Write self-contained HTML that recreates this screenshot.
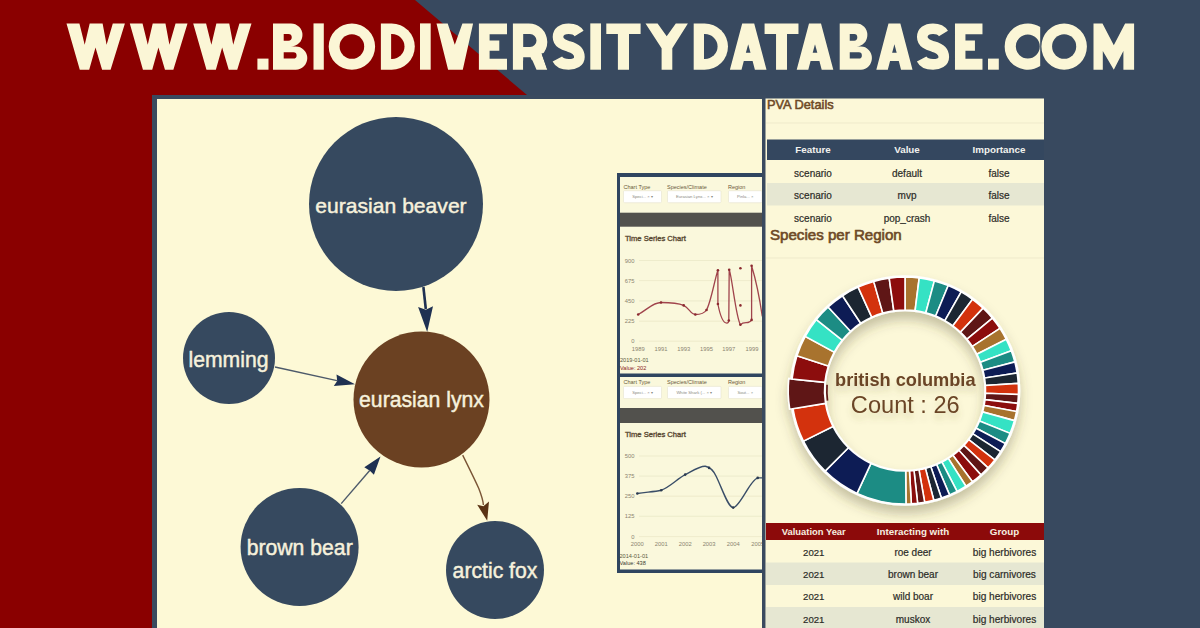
<!DOCTYPE html><html><head><meta charset="utf-8"><style>html,body{margin:0;padding:0;width:1200px;height:628px;overflow:hidden;background:#38495f}svg{display:block}</style></head><body><svg width="1200" height="628" viewBox="0 0 1200 628" font-family="Liberation Sans, sans-serif"><defs><filter id="dsh" x="-30%" y="-30%" width="160%" height="170%"><feGaussianBlur in="SourceAlpha" stdDeviation="6"/><feOffset dy="8" result="o"/><feFlood flood-color="#4a4325" flood-opacity="0.3"/><feComposite in2="o" operator="in"/><feMerge><feMergeNode/><feMergeNode in="SourceGraphic"/></feMerge></filter><radialGradient id="inner" cx="50%" cy="55%" r="50%"><stop offset="0.7" stop-color="#faf6d8"/><stop offset="1" stop-color="#ede8c4"/></radialGradient><marker id="ab" viewBox="0 0 10 10" refX="10" refY="5" markerWidth="10" markerHeight="10" markerUnits="userSpaceOnUse" orient="auto"><path d="M0 0 L10 5 L0 10 Z" fill="#36495f"/></marker><filter id="tsh" x="-20%" y="-50%" width="140%" height="200%"><feGaussianBlur in="SourceAlpha" stdDeviation="3"/><feOffset dy="6" result="o"/><feFlood flood-color="#6a6030" flood-opacity="0.22"/><feComposite in2="o" operator="in"/><feMerge><feMergeNode/><feMergeNode in="SourceGraphic"/></feMerge></filter></defs><rect width="1200" height="628" fill="#38495f"/><path d="M0 0 L415 0 L527 95 L152 95 L152 628 L0 628 Z" fill="#8a0000"/><mask id="bm" maskUnits="userSpaceOnUse" x="0" y="0" width="1200" height="100"><rect width="1200" height="100" fill="#000"/><g transform="matrix(1.0000 0 0 1 0.000 0)"><path d="M66.50 23.40 L79.40 23.40 L84.70 44.80 L89.70 23.40 L102.60 23.40 L106.60 44.80 L112.80 23.40 L124.90 23.40 L110.60 69.70 L102.10 69.70 L95.50 47.40 L89.20 69.70 L79.80 69.70 Z" fill="#fff"/></g><g transform="matrix(0.9880 0 0 1 64.097 0)"><path d="M66.50 23.40 L79.40 23.40 L84.70 44.80 L89.70 23.40 L102.60 23.40 L106.60 44.80 L112.80 23.40 L124.90 23.40 L110.60 69.70 L102.10 69.70 L95.50 47.40 L89.20 69.70 L79.80 69.70 Z" fill="#fff"/></g><g transform="matrix(0.9983 0 0 1 126.814 0)"><path d="M66.50 23.40 L79.40 23.40 L84.70 44.80 L89.70 23.40 L102.60 23.40 L106.60 44.80 L112.80 23.40 L124.90 23.40 L110.60 69.70 L102.10 69.70 L95.50 47.40 L89.20 69.70 L79.80 69.70 Z" fill="#fff"/></g><g transform="matrix(1.0000 0 0 1 0.000 0)"><path d="M257.40 58.60 L268.50 58.60 L268.50 69.70 L257.40 69.70 Z" fill="#fff"/></g><g transform="matrix(1.0000 0 0 1 0.000 0)"><path d="M273 23.4 H290.9 A11.55 11.55 0 0 1 290.9 46.5 H295.7 A11.6 11.6 0 0 1 295.7 69.7 H273 Z" fill="#fff"/><path d="M283.7 34 H288.4 A3.35 3.35 0 0 1 288.4 40.7 H283.7 Z M283.7 52.3 H293.45 A3.15 3.15 0 0 1 293.45 58.6 H283.7 Z" fill="#000"/></g><g transform="matrix(1.0000 0 0 1 0.000 0)"><path d="M313.50 23.40 L323.80 23.40 L323.80 69.70 L313.50 69.70 Z" fill="#fff"/></g><g transform="matrix(1.0000 0 0 1 0.000 0)"><path d="M328.7 46.55 A23.2 23.15 0 1 1 375.1 46.55 A23.2 23.15 0 1 1 328.7 46.55 Z" fill="#fff"/><path d="M339.6 46.55 A12.3 12.3 0 1 1 364.2 46.55 A12.3 12.3 0 1 1 339.6 46.55 Z" fill="#000"/></g><g transform="matrix(1.0000 0 0 1 0.000 0)"><path d="M380.9 23.4 H391.65 A23.15 23.15 0 0 1 391.65 69.7 H380.9 Z" fill="#fff"/><path d="M391.1 34 H392 A12.5 12.5 0 0 1 392 59 H391.1 Z" fill="#000"/></g><g transform="matrix(1.0388 0 0 1 94.325 0)"><path d="M313.50 23.40 L323.80 23.40 L323.80 69.70 L313.50 69.70 Z" fill="#fff"/></g><g transform="matrix(1.0000 0 0 1 0.000 0)"><path d="M436.50 23.40 L447.70 23.40 L454.80 44.80 L462.40 23.40 L473.10 23.40 L462.80 69.70 L448.10 69.70 Z" fill="#fff"/></g><g transform="matrix(1.0000 0 0 1 0.000 0)"><path d="M478.90 23.40 L507.00 23.40 L507.00 34.20 L489.60 34.20 L489.60 40.60 L499.30 40.60 L499.30 50.80 L489.60 50.80 L489.60 58.80 L507.00 58.80 L507.00 69.70 L478.90 69.70 Z" fill="#fff"/></g><g transform="matrix(1.0000 0 0 1 0.000 0)"><path d="M512.9 23.4 H528.7 A18.6 18.6 0 0 1 528.7 60.6 H523.2 V69.7 H512.9 Z" fill="#fff"/><path d="M523.2 34 H530 A6.5 6.5 0 0 1 530 47 H523.2 Z" fill="#000"/><path d="M523.20 69.70 L523.20 57.20 L530.50 57.20 L536.50 69.70 Z" fill="#000"/><path d="M531.20 57.60 L541.50 53.20 L547.30 69.70 L536.50 69.70 Z" fill="#fff"/><path d="M547.30 69.70 L541.50 53.20 L549.00 53.20 L549.00 69.70 Z" fill="#000"/></g><g transform="matrix(0.9879 0 0 1 -352.991 0)"><path d="M943.5 33.5 C941 29.5 937.5 28.75 933 28.75 C926 28.75 922.15 32 922.15 37 C922.15 43 928 45 933 46.5 C939 48 943.85 50.5 943.85 57 C943.85 62 939 64.35 933 64.35 C927 64.35 923 62 921.5 59" fill="none" stroke="#fff" stroke-width="10.7"/></g><g transform="matrix(1.0388 0 0 1 264.625 0)"><path d="M313.50 23.40 L323.80 23.40 L323.80 69.70 L313.50 69.70 Z" fill="#fff"/></g><g transform="matrix(1.0000 0 0 1 0.000 0)"><path d="M606.30 23.40 L640.60 23.40 L640.60 34.10 L629.00 34.10 L629.00 69.70 L617.90 69.70 L617.90 34.10 L606.30 34.10 Z" fill="#fff"/></g><g transform="matrix(1.0000 0 0 1 0.000 0)"><path d="M645.50 23.40 L657.60 23.40 L666.70 36.30 L675.80 23.40 L687.90 23.40 L672.30 48.30 L672.30 69.70 L661.60 69.70 L661.60 48.30 Z" fill="#fff"/></g><g transform="matrix(1.0118 0 0 1 308.306 0)"><path d="M380.9 23.4 H391.65 A23.15 23.15 0 0 1 391.65 69.7 H380.9 Z" fill="#fff"/><path d="M391.1 34 H392 A12.5 12.5 0 0 1 392 59 H391.1 Z" fill="#000"/></g><g transform="matrix(1.0000 0 0 1 0.000 0)"><path d="M729.90 69.70 L742.20 23.40 L754.20 23.40 L766.50 69.70 L754.90 69.70 L752.60 61.10 L743.80 61.10 L741.50 69.70 Z" fill="#fff"/><path d="M748.20 44.20 L750.50 52.80 L745.90 52.80 Z" fill="#000"/></g><g transform="matrix(0.9883 0 0 1 165.371 0)"><path d="M606.30 23.40 L640.60 23.40 L640.60 34.10 L629.00 34.10 L629.00 69.70 L617.90 69.70 L617.90 34.10 L606.30 34.10 Z" fill="#fff"/></g><g transform="matrix(1.0000 0 0 1 66.800 0)"><path d="M729.90 69.70 L742.20 23.40 L754.20 23.40 L766.50 69.70 L754.90 69.70 L752.60 61.10 L743.80 61.10 L741.50 69.70 Z" fill="#fff"/><path d="M748.20 44.20 L750.50 52.80 L745.90 52.80 Z" fill="#000"/></g><g transform="matrix(0.9388 0 0 1 583.414 0)"><path d="M273 23.4 H290.9 A11.55 11.55 0 0 1 290.9 46.5 H295.7 A11.6 11.6 0 0 1 295.7 69.7 H273 Z" fill="#fff"/><path d="M283.7 34 H288.4 A3.35 3.35 0 0 1 288.4 40.7 H283.7 Z M283.7 52.3 H293.45 A3.15 3.15 0 0 1 293.45 58.6 H283.7 Z" fill="#000"/></g><g transform="matrix(0.9891 0 0 1 154.377 0)"><path d="M729.90 69.70 L742.20 23.40 L754.20 23.40 L766.50 69.70 L754.90 69.70 L752.60 61.10 L743.80 61.10 L741.50 69.70 Z" fill="#fff"/><path d="M748.20 44.20 L750.50 52.80 L745.90 52.80 Z" fill="#000"/></g><g transform="matrix(0.9909 0 0 1 8.532 0)"><path d="M943.5 33.5 C941 29.5 937.5 28.75 933 28.75 C926 28.75 922.15 32 922.15 37 C922.15 43 928 45 933 46.5 C939 48 943.85 50.5 943.85 57 C943.85 62 939 64.35 933 64.35 C927 64.35 923 62 921.5 59" fill="none" stroke="#fff" stroke-width="10.7"/></g><g transform="matrix(0.9786 0 0 1 486.326 0)"><path d="M478.90 23.40 L507.00 23.40 L507.00 34.20 L489.60 34.20 L489.60 40.60 L499.30 40.60 L499.30 50.80 L489.60 50.80 L489.60 58.80 L507.00 58.80 L507.00 69.70 L478.90 69.70 Z" fill="#fff"/></g><g transform="matrix(0.9730 0 0 1 737.557 0)"><path d="M257.40 58.60 L268.50 58.60 L268.50 69.70 L257.40 69.70 Z" fill="#fff"/></g><g transform="matrix(1.0000 0 0 1 0.000 0)"><path d="M1040.2 27.0 A23.15 23.15 0 1 0 1040.2 66.1 Z M1015.8 46.55 A12 12 0 1 0 1039.8 46.55 A12 12 0 1 0 1015.8 46.55 Z" fill="#fff" fill-rule="evenodd"/></g><g transform="matrix(0.9806 0 0 1 719.076 0)"><path d="M328.7 46.55 A23.2 23.15 0 1 1 375.1 46.55 A23.2 23.15 0 1 1 328.7 46.55 Z" fill="#fff"/><path d="M339.6 46.55 A12.3 12.3 0 1 1 364.2 46.55 A12.3 12.3 0 1 1 339.6 46.55 Z" fill="#000"/></g><g transform="matrix(1.0000 0 0 1 0.000 0)"><path d="M1093.50 69.70 L1093.50 23.40 L1102.50 23.40 L1113.80 45.20 L1125.10 23.40 L1134.10 23.40 L1134.10 69.70 L1123.40 69.70 L1123.40 51.00 L1113.80 69.70 L1102.80 51.00 L1102.80 69.70 Z" fill="#fff"/></g></mask><rect x="0" y="0" width="1200" height="100" fill="#fbf6d6" mask="url(#bm)"/><rect x="152" y="95" width="614" height="540" fill="#3a4a5f"/><rect x="157" y="99" width="605" height="540" fill="#fdf9d6"/><line x1="423.4" y1="287" x2="425.8" y2="309" stroke="#1f3152" stroke-width="2.6"/><path d="M427.2 332 L418.1 307 L425.8 309.8 L433 306.3 Z" fill="#1f3152"/><line x1="275" y1="367" x2="337" y2="380.6" stroke="#4d5a6a" stroke-width="1.4"/><path d="M355 384.3 L336.5 374.5 L337.2 380.9 L333.8 386 Z" fill="#1f3152"/><line x1="341.2" y1="503.6" x2="369.7" y2="470.5" stroke="#4d5a6a" stroke-width="1.4"/><path d="M380.5 456.4 L364.3 467.2 L369.9 470.8 L373.9 474.7 Z" fill="#1f3152"/><path d="M462.7 455.1 C468 466 474 478 478.7 488.2 C481 494 483 500 483.4 505" fill="none" stroke="#7a5536" stroke-width="1.4"/><path d="M487.2 520.7 L477.2 504.8 L483.4 506.3 L489 501.4 Z" fill="#5a3314"/><circle cx="396" cy="204" r="87" fill="#36495f"/><circle cx="229" cy="358" r="46" fill="#36495f"/><circle cx="421.5" cy="399.5" r="68" fill="#6b4122"/><circle cx="299.6" cy="547" r="59" fill="#36495f"/><circle cx="495" cy="570" r="49" fill="#36495f"/><text x="391" y="213" font-size="21.1" fill="#f6f1dc" font-weight="normal" text-anchor="middle" stroke="#f6f1dc" stroke-width="0.45">eurasian beaver</text><text x="228.5" y="367.4" font-size="21.2" fill="#f6f1dc" font-weight="normal" text-anchor="middle" stroke="#f6f1dc" stroke-width="0.45">lemming</text><text x="421.5" y="406.8" font-size="21.2" fill="#f6f1dc" font-weight="normal" text-anchor="middle" stroke="#f6f1dc" stroke-width="0.45">eurasian lynx</text><text x="299.7" y="554.7" font-size="21.2" fill="#f6f1dc" font-weight="normal" text-anchor="middle" stroke="#f6f1dc" stroke-width="0.45">brown bear</text><text x="495" y="577.7" font-size="21.2" fill="#f6f1dc" font-weight="normal" text-anchor="middle" stroke="#f6f1dc" stroke-width="0.45">arctic fox</text><rect x="617" y="173" width="149" height="400" fill="#2f4560"/><rect x="620" y="177" width="142" height="196.5" fill="#faf8dc"/><rect x="620" y="377" width="142" height="192.5" fill="#faf8dc"/><text x="623.5" y="188.7" font-size="5.5" fill="#6a5a3a" font-weight="normal" text-anchor="start" >Chart Type</text><text x="667" y="188.7" font-size="5.5" fill="#6a5a3a" font-weight="normal" text-anchor="start" >Species/Climate</text><text x="728" y="188.7" font-size="5.5" fill="#6a5a3a" font-weight="normal" text-anchor="start" >Region</text><rect x="623.5" y="190.7" width="38" height="12" fill="#ffffff" stroke="#e6e3cf" stroke-width="0.6" rx="1"/><text x="642.5" y="198.3" font-size="4.2" fill="#8a8a80" font-weight="normal" text-anchor="middle" >Speci... ×   ▾</text><rect x="667.5" y="190.7" width="53.5" height="12" fill="#ffffff" stroke="#e6e3cf" stroke-width="0.6" rx="1"/><text x="694.25" y="198.3" font-size="4.2" fill="#8a8a80" font-weight="normal" text-anchor="middle" >Eurasian Lynx... ×  ▾</text><rect x="728.5" y="190.7" width="33.5" height="12" fill="#ffffff" stroke="#e6e3cf" stroke-width="0.6" rx="1"/><text x="745.25" y="198.3" font-size="4.2" fill="#8a8a80" font-weight="normal" text-anchor="middle" >Pinla... ×</text><rect x="620" y="212.7" width="142" height="14" fill="#52514d"/><text x="625" y="240.7" font-size="7.6" fill="#5a4a33" font-weight="normal" text-anchor="start" stroke="#5a4a33" stroke-width="0.35">Time Series Chart</text><text x="623.5" y="384.4" font-size="5.5" fill="#6a5a3a" font-weight="normal" text-anchor="start" >Chart Type</text><text x="667" y="384.4" font-size="5.5" fill="#6a5a3a" font-weight="normal" text-anchor="start" >Species/Climate</text><text x="728" y="384.4" font-size="5.5" fill="#6a5a3a" font-weight="normal" text-anchor="start" >Region</text><rect x="623.5" y="386.4" width="38" height="12.2" fill="#ffffff" stroke="#e6e3cf" stroke-width="0.6" rx="1"/><text x="642.5" y="394.1" font-size="4.2" fill="#8a8a80" font-weight="normal" text-anchor="middle" >Speci... ×   ▾</text><rect x="667.5" y="386.4" width="53.5" height="12.2" fill="#ffffff" stroke="#e6e3cf" stroke-width="0.6" rx="1"/><text x="694.25" y="394.1" font-size="4.2" fill="#8a8a80" font-weight="normal" text-anchor="middle" >White Shark (... ×  ▾</text><rect x="728.5" y="386.4" width="33.5" height="12.2" fill="#ffffff" stroke="#e6e3cf" stroke-width="0.6" rx="1"/><text x="745.25" y="394.1" font-size="4.2" fill="#8a8a80" font-weight="normal" text-anchor="middle" >Sout... ×</text><rect x="620" y="408" width="142" height="15" fill="#52514d"/><text x="625" y="436.5" font-size="7.6" fill="#5a4a33" font-weight="normal" text-anchor="start" stroke="#5a4a33" stroke-width="0.35">Time Series Chart</text><line x1="639" y1="260.5" x2="762" y2="260.5" stroke="#ebe8c8" stroke-width="0.8"/><text x="634.5" y="262.5" font-size="5.8" fill="#8a8470" font-weight="normal" text-anchor="end" >900</text><line x1="639" y1="280.6" x2="762" y2="280.6" stroke="#ebe8c8" stroke-width="0.8"/><text x="634.5" y="282.6" font-size="5.8" fill="#8a8470" font-weight="normal" text-anchor="end" >675</text><line x1="639" y1="300.9" x2="762" y2="300.9" stroke="#ebe8c8" stroke-width="0.8"/><text x="634.5" y="302.9" font-size="5.8" fill="#8a8470" font-weight="normal" text-anchor="end" >450</text><line x1="639" y1="321.2" x2="762" y2="321.2" stroke="#ebe8c8" stroke-width="0.8"/><text x="634.5" y="323.2" font-size="5.8" fill="#8a8470" font-weight="normal" text-anchor="end" >225</text><line x1="639" y1="341.2" x2="762" y2="341.2" stroke="#ebe8c8" stroke-width="0.8"/><text x="634.5" y="343.2" font-size="5.8" fill="#8a8470" font-weight="normal" text-anchor="end" >0</text><text x="638.2" y="350.5" font-size="5.8" fill="#8a8470" font-weight="normal" text-anchor="middle" >1989</text><text x="661" y="350.5" font-size="5.8" fill="#8a8470" font-weight="normal" text-anchor="middle" >1991</text><text x="683.7" y="350.5" font-size="5.8" fill="#8a8470" font-weight="normal" text-anchor="middle" >1993</text><text x="706.5" y="350.5" font-size="5.8" fill="#8a8470" font-weight="normal" text-anchor="middle" >1995</text><text x="728.8" y="350.5" font-size="5.8" fill="#8a8470" font-weight="normal" text-anchor="middle" >1997</text><text x="752" y="350.5" font-size="5.8" fill="#8a8470" font-weight="normal" text-anchor="middle" >1999</text><text x="620" y="362" font-size="5.6" fill="#5a5a40" font-weight="normal" text-anchor="start" >2019-01-01</text><text x="620" y="370" font-size="5.6" fill="#8b1a1a" font-weight="normal" text-anchor="start" >Value: 202</text><path d="M638.2 314.5 C648 309 653 302.5 661 302.5 C672 302.5 678 303 683.7 305.4 C689 308 691 314.5 695.3 314.5 C700 314.5 704 314 706.5 310 C711 302 715 278 717.9 270.2 L717.9 304 C720 315 723 323 726.8 323.2 C728.5 323 728.8 321 728.8 320.5 L729.2 269.8 C731.9 276 736 318 740.4 324.7 C743 322 746 323 748 322.5 C750 322 751 321 751.6 319.9 L751.6 265.7 C754.7 276 759.9 300 762.3 316.4" fill="none" stroke="#a0444c" stroke-width="1.3"/><circle cx="638.2" cy="314.5" r="1.3" fill="#8c2a30"/><circle cx="661" cy="302.5" r="1.3" fill="#8c2a30"/><circle cx="683.7" cy="305.4" r="1.3" fill="#8c2a30"/><circle cx="695.3" cy="314.5" r="1.3" fill="#8c2a30"/><circle cx="706.5" cy="310" r="1.3" fill="#8c2a30"/><circle cx="717.9" cy="270.2" r="1.3" fill="#8c2a30"/><circle cx="717.9" cy="304" r="1.3" fill="#8c2a30"/><circle cx="728.8" cy="320.5" r="1.3" fill="#8c2a30"/><circle cx="729.2" cy="269.8" r="1.3" fill="#8c2a30"/><circle cx="740.4" cy="324.7" r="1.3" fill="#8c2a30"/><circle cx="740.4" cy="268.2" r="1.3" fill="#8c2a30"/><circle cx="740.4" cy="305.4" r="1.3" fill="#8c2a30"/><circle cx="751.6" cy="319.9" r="1.3" fill="#8c2a30"/><circle cx="751.6" cy="265.7" r="1.3" fill="#8c2a30"/><line x1="639" y1="456" x2="762" y2="456" stroke="#ebe8c8" stroke-width="0.8"/><text x="634.5" y="458" font-size="5.8" fill="#8a8470" font-weight="normal" text-anchor="end" >500</text><line x1="639" y1="476.1" x2="762" y2="476.1" stroke="#ebe8c8" stroke-width="0.8"/><text x="634.5" y="478.1" font-size="5.8" fill="#8a8470" font-weight="normal" text-anchor="end" >375</text><line x1="639" y1="496.2" x2="762" y2="496.2" stroke="#ebe8c8" stroke-width="0.8"/><text x="634.5" y="498.2" font-size="5.8" fill="#8a8470" font-weight="normal" text-anchor="end" >250</text><line x1="639" y1="516.3" x2="762" y2="516.3" stroke="#ebe8c8" stroke-width="0.8"/><text x="634.5" y="518.3" font-size="5.8" fill="#8a8470" font-weight="normal" text-anchor="end" >125</text><line x1="639" y1="536.6" x2="762" y2="536.6" stroke="#ebe8c8" stroke-width="0.8"/><text x="634.5" y="538.6" font-size="5.8" fill="#8a8470" font-weight="normal" text-anchor="end" >0</text><text x="637.3" y="546" font-size="5.8" fill="#8a8470" font-weight="normal" text-anchor="middle" >2000</text><text x="661.2" y="546" font-size="5.8" fill="#8a8470" font-weight="normal" text-anchor="middle" >2001</text><text x="685.2" y="546" font-size="5.8" fill="#8a8470" font-weight="normal" text-anchor="middle" >2002</text><text x="709.1" y="546" font-size="5.8" fill="#8a8470" font-weight="normal" text-anchor="middle" >2003</text><text x="733.2" y="546" font-size="5.8" fill="#8a8470" font-weight="normal" text-anchor="middle" >2004</text><text x="757.7" y="546" font-size="5.8" fill="#8a8470" font-weight="normal" text-anchor="middle" >2005</text><text x="619.5" y="557.5" font-size="5.6" fill="#5a5a40" font-weight="normal" text-anchor="start" >2014-01-01</text><text x="619.5" y="565" font-size="5.6" fill="#3a3a30" font-weight="normal" text-anchor="start" >Value: 438</text><path d="M637.3 493.5 C648 492 655 491.5 661.2 490.2 C670 487 677 479 685.2 474.6 C694 470 700 466 705.3 466.3 C710 467 713 470 716 476 C722 488 728 507.6 733.2 507.6 C740 507 750 480 757.7 477.9 L763.3 477.9" fill="none" stroke="#3a4e68" stroke-width="1.4"/><circle cx="637.3" cy="493.5" r="1.3" fill="#2a3a50"/><circle cx="661.2" cy="490.2" r="1.3" fill="#2a3a50"/><circle cx="685.2" cy="474.6" r="1.3" fill="#2a3a50"/><circle cx="709.1" cy="467.9" r="1.3" fill="#2a3a50"/><circle cx="733.2" cy="507.6" r="1.3" fill="#2a3a50"/><circle cx="757.7" cy="477.9" r="1.3" fill="#2a3a50"/><rect x="762" y="98" width="282" height="540" fill="#3a4a5f"/><rect x="765.5" y="98.5" width="278.5" height="540" fill="#fcf8d8"/><line x1="766" y1="123" x2="1044" y2="123" stroke="#efeacb" stroke-width="1"/><line x1="766" y1="258" x2="1044" y2="258" stroke="#efeacb" stroke-width="1"/><text x="767" y="109" font-size="12.8" fill="#6e4a27" font-weight="normal" text-anchor="start" stroke="#6e4a27" stroke-width="0.55">PVA Details</text><rect x="767" y="139.5" width="277" height="20.5" fill="#34475f"/><text x="813" y="153.3" font-size="9.8" fill="#f2f2ee" font-weight="bold" text-anchor="middle" >Feature</text><text x="907" y="153.3" font-size="9.8" fill="#f2f2ee" font-weight="bold" text-anchor="middle" >Value</text><text x="999" y="153.3" font-size="9.8" fill="#f2f2ee" font-weight="bold" text-anchor="middle" >Importance</text><rect x="767" y="183" width="277" height="22.5" fill="#e6e7d2"/><text x="813" y="176.7" font-size="10" fill="#2c2c28" font-weight="normal" text-anchor="middle" stroke="#2c2c28" stroke-width="0.2">scenario</text><text x="907" y="176.7" font-size="10" fill="#2c2c28" font-weight="normal" text-anchor="middle" stroke="#2c2c28" stroke-width="0.2">default</text><text x="999" y="176.7" font-size="10" fill="#2c2c28" font-weight="normal" text-anchor="middle" stroke="#2c2c28" stroke-width="0.2">false</text><text x="813" y="199" font-size="10" fill="#2c2c28" font-weight="normal" text-anchor="middle" stroke="#2c2c28" stroke-width="0.2">scenario</text><text x="907" y="199" font-size="10" fill="#2c2c28" font-weight="normal" text-anchor="middle" stroke="#2c2c28" stroke-width="0.2">mvp</text><text x="999" y="199" font-size="10" fill="#2c2c28" font-weight="normal" text-anchor="middle" stroke="#2c2c28" stroke-width="0.2">false</text><text x="813" y="221.7" font-size="10" fill="#2c2c28" font-weight="normal" text-anchor="middle" stroke="#2c2c28" stroke-width="0.2">scenario</text><text x="907" y="221.7" font-size="10" fill="#2c2c28" font-weight="normal" text-anchor="middle" stroke="#2c2c28" stroke-width="0.2">pop_crash</text><text x="999" y="221.7" font-size="10" fill="#2c2c28" font-weight="normal" text-anchor="middle" stroke="#2c2c28" stroke-width="0.2">false</text><text x="770" y="240" font-size="15.1" fill="#6e4a27" font-weight="normal" text-anchor="start" stroke="#6e4a27" stroke-width="0.65">Species per Region</text><g filter="url(#dsh)"><path d="M905 275.2 A115.3 115.3 0 1 0 905 505.8 A115.3 115.3 0 1 0 905 275.2 Z M905 311.2 A79.3 79.3 0 1 1 905 469.8 A79.3 79.3 0 1 1 905 311.2 Z" fill="#ffffff" fill-rule="evenodd"/><g stroke="#ffffff" stroke-width="1.6" stroke-linejoin="miter"><path d="M905 277 A113.5 113.5 0 0 1 919.23 277.89 L915.09 310.63 A80.5 80.5 0 0 0 905 310 Z" fill="#a8732f"/><path d="M919.23 277.89 A113.5 113.5 0 0 1 934.38 280.87 L925.83 312.74 A80.5 80.5 0 0 0 915.09 310.63 Z" fill="#36e2c4"/><path d="M934.38 280.87 A113.5 113.5 0 0 1 948.25 285.56 L935.68 316.07 A80.5 80.5 0 0 0 925.83 312.74 Z" fill="#1d8c84"/><path d="M948.25 285.56 A113.5 113.5 0 0 1 961.23 291.91 L944.88 320.58 A80.5 80.5 0 0 0 935.68 316.07 Z" fill="#0f1b55"/><path d="M961.23 291.91 A113.5 113.5 0 0 1 972.51 299.26 L952.88 325.79 A80.5 80.5 0 0 0 944.88 320.58 Z" fill="#1b2532"/><path d="M972.51 299.26 A113.5 113.5 0 0 1 983.13 308.17 L960.41 332.11 A80.5 80.5 0 0 0 952.88 325.79 Z" fill="#d3300e"/><path d="M983.13 308.17 A113.5 113.5 0 0 1 992.45 318.15 L967.03 339.19 A80.5 80.5 0 0 0 960.41 332.11 Z" fill="#5e1414"/><path d="M992.45 318.15 A113.5 113.5 0 0 1 999.97 328.35 L972.36 346.42 A80.5 80.5 0 0 0 967.03 339.19 Z" fill="#8c0a0a"/><path d="M999.97 328.35 A113.5 113.5 0 0 1 1006.31 339.33 L976.85 354.2 A80.5 80.5 0 0 0 972.36 346.42 Z" fill="#a8732f"/><path d="M1006.31 339.33 A113.5 113.5 0 0 1 1011.31 350.75 L980.4 362.31 A80.5 80.5 0 0 0 976.85 354.2 Z" fill="#36e2c4"/><path d="M1011.31 350.75 A113.5 113.5 0 0 1 1014.83 361.89 L982.9 370.21 A80.5 80.5 0 0 0 980.4 362.31 Z" fill="#1d8c84"/><path d="M1014.83 361.89 A113.5 113.5 0 0 1 1017.13 372.94 L984.53 378.05 A80.5 80.5 0 0 0 982.9 370.21 Z" fill="#0f1b55"/><path d="M1017.13 372.94 A113.5 113.5 0 0 1 1018.28 383.37 L985.34 385.45 A80.5 80.5 0 0 0 984.53 378.05 Z" fill="#1b2532"/><path d="M1018.28 383.37 A113.5 113.5 0 0 1 1018.43 394.46 L985.45 393.31 A80.5 80.5 0 0 0 985.34 385.45 Z" fill="#d3300e"/><path d="M1018.43 394.46 A113.5 113.5 0 0 1 1017.77 403.35 L984.98 399.61 A80.5 80.5 0 0 0 985.45 393.31 Z" fill="#5e1414"/><path d="M1017.77 403.35 A113.5 113.5 0 0 1 1016.53 411.57 L984.1 405.45 A80.5 80.5 0 0 0 984.98 399.61 Z" fill="#8c0a0a"/><path d="M1016.53 411.57 A113.5 113.5 0 0 1 1014.42 420.64 L982.61 411.88 A80.5 80.5 0 0 0 984.1 405.45 Z" fill="#a8732f"/><path d="M1014.42 420.64 A113.5 113.5 0 0 1 1010.09 433.38 L979.53 420.92 A80.5 80.5 0 0 0 982.61 411.88 Z" fill="#36e2c4"/><path d="M1010.09 433.38 A113.5 113.5 0 0 1 1005.31 443.61 L976.14 428.17 A80.5 80.5 0 0 0 979.53 420.92 Z" fill="#1d8c84"/><path d="M1005.31 443.61 A113.5 113.5 0 0 1 1000.62 451.65 L972.82 433.87 A80.5 80.5 0 0 0 976.14 428.17 Z" fill="#0f1b55"/><path d="M1000.62 451.65 A113.5 113.5 0 0 1 994.8 459.91 L968.69 439.73 A80.5 80.5 0 0 0 972.82 433.87 Z" fill="#1b2532"/><path d="M994.8 459.91 A113.5 113.5 0 0 1 988.01 467.91 L963.87 445.4 A80.5 80.5 0 0 0 968.69 439.73 Z" fill="#d3300e"/><path d="M988.01 467.91 A113.5 113.5 0 0 1 980.95 474.85 L958.87 450.32 A80.5 80.5 0 0 0 963.87 445.4 Z" fill="#5e1414"/><path d="M980.95 474.85 A113.5 113.5 0 0 1 972.51 481.74 L952.88 455.21 A80.5 80.5 0 0 0 958.87 450.32 Z" fill="#8c0a0a"/><path d="M972.51 481.74 A113.5 113.5 0 0 1 965.98 486.22 L948.25 458.39 A80.5 80.5 0 0 0 952.88 455.21 Z" fill="#a8732f"/><path d="M965.98 486.22 A113.5 113.5 0 0 1 957.06 491.36 L941.92 462.03 A80.5 80.5 0 0 0 948.25 458.39 Z" fill="#36e2c4"/><path d="M957.06 491.36 A113.5 113.5 0 0 1 949.53 494.9 L936.58 464.55 A80.5 80.5 0 0 0 941.92 462.03 Z" fill="#1d8c84"/><path d="M949.53 494.9 A113.5 113.5 0 0 1 941.39 498.01 L930.81 466.75 A80.5 80.5 0 0 0 936.58 464.55 Z" fill="#0f1b55"/><path d="M941.39 498.01 A113.5 113.5 0 0 1 933.8 500.28 L925.43 468.37 A80.5 80.5 0 0 0 930.81 466.75 Z" fill="#1b2532"/><path d="M933.8 500.28 A113.5 113.5 0 0 1 924.71 502.28 L918.98 469.78 A80.5 80.5 0 0 0 925.43 468.37 Z" fill="#d3300e"/><path d="M924.71 502.28 A113.5 113.5 0 0 1 917.65 503.29 L913.97 470.5 A80.5 80.5 0 0 0 918.98 469.78 Z" fill="#5e1414"/><path d="M917.65 503.29 A113.5 113.5 0 0 1 911.34 503.82 L909.49 470.87 A80.5 80.5 0 0 0 913.97 470.5 Z" fill="#8c0a0a"/><path d="M911.34 503.82 A113.5 113.5 0 0 1 905.99 504 L905.7 471 A80.5 80.5 0 0 0 909.49 470.87 Z" fill="#a8732f"/><path d="M905.99 504 A113.5 113.5 0 0 1 857.03 493.37 L870.98 463.46 A80.5 80.5 0 0 0 905.7 471 Z" fill="#1d8c84"/><path d="M857.03 493.37 A113.5 113.5 0 0 1 825.16 471.18 L848.38 447.72 A80.5 80.5 0 0 0 870.98 463.46 Z" fill="#0f1b55"/><path d="M825.16 471.18 A113.5 113.5 0 0 1 803.42 441.14 L832.96 426.42 A80.5 80.5 0 0 0 848.38 447.72 Z" fill="#1b2532"/><path d="M803.42 441.14 A113.5 113.5 0 0 1 792.96 408.65 L825.54 403.37 A80.5 80.5 0 0 0 832.96 426.42 Z" fill="#d3300e"/><path d="M789.7 409.17 A116.8 116.8 0 0 1 788.8 378.7 L824.91 382.36 A80.5 80.5 0 0 0 825.54 403.37 Z" fill="#5e1414"/><path d="M792.08 379.03 A113.5 113.5 0 0 1 796.93 355.8 L828.35 365.89 A80.5 80.5 0 0 0 824.91 382.36 Z" fill="#8c0a0a"/><path d="M796.93 355.8 A113.5 113.5 0 0 1 805.25 336.34 L834.26 352.09 A80.5 80.5 0 0 0 828.35 365.89 Z" fill="#a8732f"/><path d="M805.25 336.34 A113.5 113.5 0 0 1 816.42 319.53 L842.18 340.17 A80.5 80.5 0 0 0 834.26 352.09 Z" fill="#36e2c4"/><path d="M816.42 319.53 A113.5 113.5 0 0 1 828.17 306.95 L850.51 331.24 A80.5 80.5 0 0 0 842.18 340.17 Z" fill="#1d8c84"/><path d="M828.17 306.95 A113.5 113.5 0 0 1 842.52 295.74 L860.69 323.29 A80.5 80.5 0 0 0 850.51 331.24 Z" fill="#0f1b55"/><path d="M842.52 295.74 A113.5 113.5 0 0 1 858.11 287.14 L871.75 317.19 A80.5 80.5 0 0 0 860.69 323.29 Z" fill="#1b2532"/><path d="M858.11 287.14 A113.5 113.5 0 0 1 873.72 281.4 L882.81 313.12 A80.5 80.5 0 0 0 871.75 317.19 Z" fill="#d3300e"/><path d="M873.72 281.4 A113.5 113.5 0 0 1 889.2 278.1 L893.8 310.78 A80.5 80.5 0 0 0 882.81 313.12 Z" fill="#5e1414"/><path d="M889.2 278.1 A113.5 113.5 0 0 1 905 277 L905 310 A80.5 80.5 0 0 0 893.8 310.78 Z" fill="#8c0a0a"/></g><path d="M826.68 400.81 A79 79 0 0 1 826.21 384.71 L827.91 384.84 A77.3 77.3 0 0 0 828.36 400.59 Z" fill="#5e1414"/></g><g filter="url(#tsh)"><text x="905.3" y="386" font-size="18.2" fill="#6b4526" font-weight="bold" text-anchor="middle" >british columbia</text><text x="905.3" y="413.3" font-size="23.6" fill="#6b4526" font-weight="normal" text-anchor="middle" >Count : 26</text></g><rect x="766" y="523" width="278" height="17" fill="#8c0a0a"/><text x="813.75" y="534.5" font-size="9.4" fill="#f6efe0" font-weight="bold" text-anchor="middle" >Valuation Year</text><text x="913" y="534.5" font-size="9.8" fill="#f6efe0" font-weight="bold" text-anchor="middle" >Interacting with</text><text x="1004.5" y="534.5" font-size="9.8" fill="#f6efe0" font-weight="bold" text-anchor="middle" >Group</text><rect x="766" y="562.5" width="278" height="22.5" fill="#e6e7d2"/><rect x="766" y="607" width="278" height="22" fill="#e6e7d2"/><text x="813.75" y="555.5" font-size="9.6" fill="#2c2c28" font-weight="normal" text-anchor="middle" stroke="#2c2c28" stroke-width="0.2">2021</text><text x="913" y="555.5" font-size="10" fill="#2c2c28" font-weight="normal" text-anchor="middle" stroke="#2c2c28" stroke-width="0.2">roe deer</text><text x="1004.5" y="555.5" font-size="10.1" fill="#2c2c28" font-weight="normal" text-anchor="middle" stroke="#2c2c28" stroke-width="0.2">big herbivores</text><text x="813.75" y="578" font-size="9.6" fill="#2c2c28" font-weight="normal" text-anchor="middle" stroke="#2c2c28" stroke-width="0.2">2021</text><text x="913" y="578" font-size="10" fill="#2c2c28" font-weight="normal" text-anchor="middle" stroke="#2c2c28" stroke-width="0.2">brown bear</text><text x="1004.5" y="578" font-size="10.1" fill="#2c2c28" font-weight="normal" text-anchor="middle" stroke="#2c2c28" stroke-width="0.2">big carnivores</text><text x="813.75" y="600" font-size="9.6" fill="#2c2c28" font-weight="normal" text-anchor="middle" stroke="#2c2c28" stroke-width="0.2">2021</text><text x="913" y="600" font-size="10" fill="#2c2c28" font-weight="normal" text-anchor="middle" stroke="#2c2c28" stroke-width="0.2">wild boar</text><text x="1004.5" y="600" font-size="10.1" fill="#2c2c28" font-weight="normal" text-anchor="middle" stroke="#2c2c28" stroke-width="0.2">big herbivores</text><text x="813.75" y="622.5" font-size="9.6" fill="#2c2c28" font-weight="normal" text-anchor="middle" stroke="#2c2c28" stroke-width="0.2">2021</text><text x="913" y="622.5" font-size="10" fill="#2c2c28" font-weight="normal" text-anchor="middle" stroke="#2c2c28" stroke-width="0.2">muskox</text><text x="1004.5" y="622.5" font-size="10.1" fill="#2c2c28" font-weight="normal" text-anchor="middle" stroke="#2c2c28" stroke-width="0.2">big herbivores</text></svg></body></html>
